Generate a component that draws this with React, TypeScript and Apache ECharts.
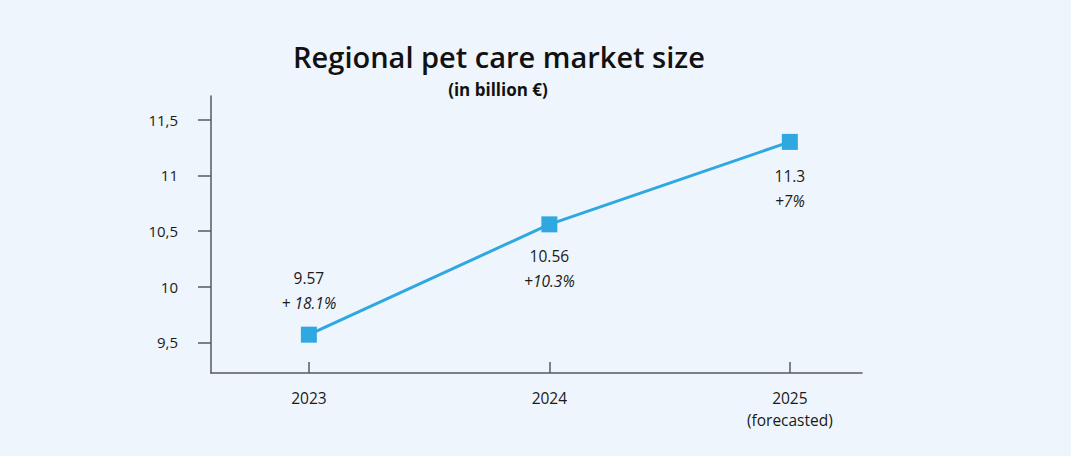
import React, { useEffect, useRef } from "react";
import * as echarts from "echarts";

const years = [2023, 2024, 2025];
const yearLabels = ["2023", "2024", "2025\n(forecasted)"];
const marketSize = [9.57, 10.56, 11.3];
const growth = ["+ 18.1%", "+10.3%", "+7%"];
const sizeLabels = ["9.57", "10.56", "11.3"];
const labelAbove = [true, false, false];
const labelGap = [11, 11, 14];
const yTicks = [9.5, 10, 10.5, 11, 11.5];

const FONT = "'Open Sans', Lato, sans-serif";
const BLUE = "#2fa8e2";
const AXIS = "#555b60";
const INK = "#1a1a1a";

export default function App() {
  const ref = useRef<HTMLDivElement>(null);

  useEffect(() => {
    if (!ref.current) return;
    const chart = echarts.init(ref.current, null, { renderer: "svg" });

    const data = years.map((y, i) => ({
      value: [y, marketSize[i]],
      label: {
        show: true,
        position: labelAbove[i] ? "top" : "bottom",
        distance: labelGap[i],
        formatter: `{v|${sizeLabels[i]}}\n{g|${growth[i]}}`,
        rich: {
          v: { fontFamily: FONT, fontSize: 15.5, color: INK, lineHeight: 25, align: "center" },
          g: { fontFamily: FONT, fontSize: 15.5, fontStyle: "italic", color: INK, lineHeight: 25, align: "center" },
        },
      },
    }));

    chart.setOption({
      animation: false,
      backgroundColor: "#eef5fc",
      graphic: [
        {
          type: "text",
          x: 499,
          y: 56,
          style: {
            text: "Regional pet care market size",
            font: `600 29px ${FONT}`,
            fill: "#111",
            textAlign: "center",
            textVerticalAlign: "middle",
          },
        },
        {
          type: "text",
          x: 498,
          y: 89,
          style: {
            text: "(in billion €)",
            font: `700 17px ${FONT}`,
            fill: "#111",
            textAlign: "center",
            textVerticalAlign: "middle",
          },
        },
      ],
      grid: { left: 211, right: 209, top: 96, bottom: 83, containLabel: false },
      xAxis: {
        type: "value",
        min: 2022.593,
        max: 2025.3,
        splitLine: { show: false },
        axisLine: { show: true, onZero: false, lineStyle: { color: AXIS, width: 1.5 } },
        axisTick: { show: true, inside: true, length: 11, customValues: years, lineStyle: { color: AXIS, width: 1.5 } },
        axisLabel: {
          customValues: years,
          margin: 14,
          fontFamily: FONT,
          fontSize: 15.5,
          color: INK,
          lineHeight: 22,
          formatter: (v: number) => yearLabels[years.indexOf(Math.round(v))] ?? "",
        },
      },
      yAxis: {
        type: "value",
        min: 9.226,
        max: 11.712,
        splitLine: { show: false },
        axisLine: { show: true, lineStyle: { color: AXIS, width: 1.5 } },
        axisTick: { show: true, length: 13, customValues: yTicks, lineStyle: { color: AXIS, width: 1.5 } },
        axisLabel: {
          customValues: yTicks,
          margin: 33,
          fontFamily: FONT,
          fontSize: 15,
          color: INK,
          formatter: (v: number) => String(v).replace(".", ","),
        },
      },
      series: [
        {
          type: "line",
          data,
          symbol: "rect",
          symbolSize: 16,
          lineStyle: { color: BLUE, width: 3 },
          itemStyle: { color: BLUE },
        },
      ],
    });

    return () => chart.dispose();
  }, []);

  return (
    <div
      ref={ref}
      style={{ position: "fixed", left: 0, top: 0, width: 1071, height: 456 }}
    />
  );
}
